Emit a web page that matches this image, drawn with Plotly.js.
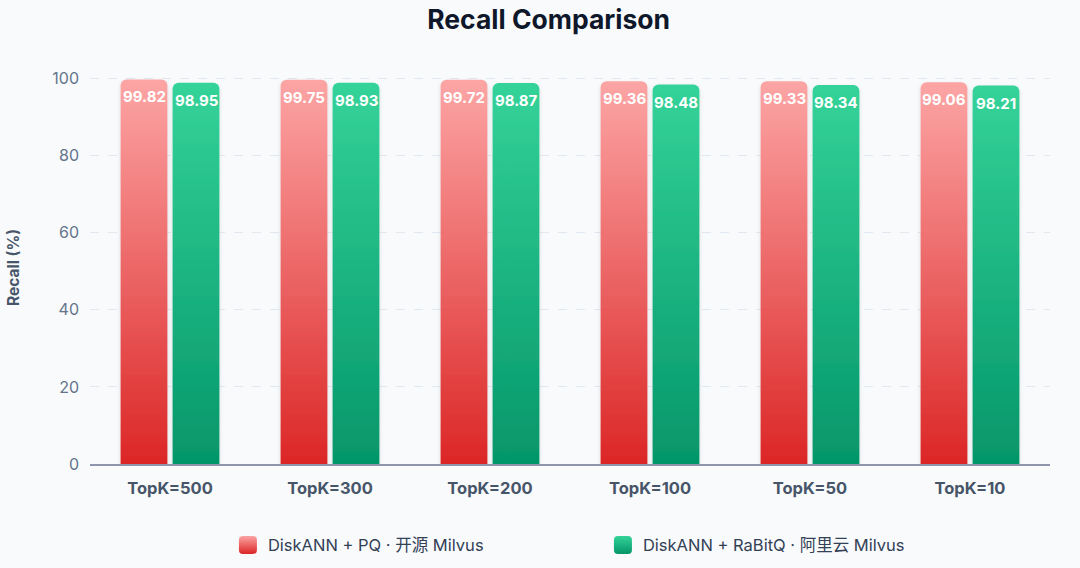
<!DOCTYPE html>
<html>
<head>
<meta charset="utf-8">
<script src="https://cdn.plot.ly/plotly-3.0.1.min.js"></script>
<style>
  html, body { margin: 0; padding: 0; background: #f8fafc; }
  #chart { width: 1080px; height: 568px; }
</style>
</head>
<body>
<div id="chart"></div>
<script>
// Recall at different TopK settings for the two index variants
const categories = ['TopK=500', 'TopK=300', 'TopK=200', 'TopK=100', 'TopK=50', 'TopK=10'];
const pqRecall = [99.82, 99.75, 99.72, 99.36, 99.33, 99.06];
const rabitqRecall = [98.95, 98.93, 98.87, 98.48, 98.34, 98.21];
const seriesNames = ['DiskANN + PQ · 开源 Milvus', 'DiskANN + RaBitQ · 阿里云 Milvus'];

const FONT = 'Inter, "Noto Sans CJK SC", "Noto Sans", sans-serif';
const BARGAP = 0.35;
const GROUPGAP = 0.1;

function barTrace(name, values, color) {
  return {
    type: 'bar',
    name: name,
    x: categories,
    y: values,
    marker: { color: color, cornerradius: 6, line: { width: 0 } }
  };
}

const data = [
  barTrace(seriesNames[0], pqRecall, '#ef4444'),
  barTrace(seriesNames[1], rabitqRecall, '#10b981')
];

// Value labels just inside the top of each bar
const slot = (1 - BARGAP) / 2;
const annotations = [];
[pqRecall, rabitqRecall].forEach((vals, s) => {
  const offset = (s === 0 ? -1 : 1) * slot / 2;
  vals.forEach((v, i) => {
    annotations.push({
      x: i + offset, y: v, xref: 'x', yref: 'y',
      text: '<b>' + v.toFixed(2) + '</b>',
      showarrow: false,
      yanchor: 'top', xanchor: 'center',
      yshift: -6,
      font: { size: 15, color: '#ffffff', family: FONT }
    });
  });
});

const layout = {
  width: 1080,
  height: 568,
  paper_bgcolor: '#f8fafc',
  plot_bgcolor: '#f8fafc',
  font: { family: FONT, color: '#475569' },
  margin: { l: 90, r: 30, t: 71, b: 104, autoexpand: false },
  title: {
    text: '<b>Recall Comparison</b>',
    font: { size: 26.5, color: '#0f172a', family: FONT },
    x: 0.508, xanchor: 'center',
    y: 0.965, yanchor: 'middle'
  },
  barmode: 'group',
  bargap: BARGAP,
  bargroupgap: GROUPGAP,
  showlegend: true,
  legend: {
    orientation: 'h',
    x: 0.5343, xanchor: 'center',
    y: -0.162, yanchor: 'top',
    entrywidth: 330, entrywidthmode: 'pixels',
    font: { size: 16.5, color: '#334155', family: FONT },
    itemsizing: 'constant',
    bgcolor: 'rgba(0,0,0,0)'
  },
  annotations: annotations,
  xaxis: {
    type: 'category',
    showline: true,
    linecolor: '#8f95ab',
    linewidth: 1.5,
    showgrid: false,
    ticks: '',
    ticklabelstandoff: 9,
    automargin: false,
    tickfont: { size: 16.5, color: '#475569', family: FONT, weight: 700 }
  },
  yaxis: {
    range: [0, 102],
    tickvals: [0, 20, 40, 60, 80, 100],
    showgrid: true,
    gridcolor: '#e2e8f0',
    griddash: 'dash',
    gridwidth: 1,
    zeroline: false,
    showline: false,
    ticks: '',
    ticklabelstandoff: 10,
    automargin: false,
    tickfont: { size: 16, color: '#64748b', family: FONT },
    title: {
      text: '<b>Recall (%)</b>',
      font: { size: 15.5, color: '#475569', family: FONT },
      standoff: 28
    }
  }
};

const gd = document.getElementById('chart');
Plotly.newPlot(gd, data, layout, { staticPlot: true, displayModeBar: false }).then(() => {
  const svgNS = 'http://www.w3.org/2000/svg';
  const svg = gd.querySelector('svg.main-svg');
  let defs = svg.querySelector('defs');
  if (!defs) { defs = document.createElementNS(svgNS, 'defs'); svg.insertBefore(defs, svg.firstChild); }

  // Vertical gradients for the two series
  const grads = [
    { id: 'gradPQ', top: '#fca5a5', bottom: '#dc2626' },
    { id: 'gradRB', top: '#34d399', bottom: '#059669' }
  ];
  grads.forEach(g => {
    const lg = document.createElementNS(svgNS, 'linearGradient');
    lg.setAttribute('id', g.id);
    lg.setAttribute('x1', '0'); lg.setAttribute('y1', '0');
    lg.setAttribute('x2', '0'); lg.setAttribute('y2', '1');
    [[0, g.top], [1, g.bottom]].forEach(([o, c]) => {
      const s = document.createElementNS(svgNS, 'stop');
      s.setAttribute('offset', o);
      s.setAttribute('stop-color', c);
      lg.appendChild(s);
    });
    defs.appendChild(lg);
  });

  // Soft drop shadow under bars
  const f = document.createElementNS(svgNS, 'filter');
  f.setAttribute('id', 'barShadow');
  f.setAttribute('x', '-20%'); f.setAttribute('y', '-10%');
  f.setAttribute('width', '140%'); f.setAttribute('height', '130%');
  const ds = document.createElementNS(svgNS, 'feDropShadow');
  ds.setAttribute('dx', '0'); ds.setAttribute('dy', '2');
  ds.setAttribute('stdDeviation', '2');
  ds.setAttribute('flood-color', '#0f172a');
  ds.setAttribute('flood-opacity', '0.12');
  f.appendChild(ds);
  defs.appendChild(f);

  const traces = gd.querySelectorAll('.barlayer .trace');
  traces.forEach((t, i) => {
    t.querySelectorAll('.point path').forEach(p => {
      p.style.fill = 'url(#' + grads[i].id + ')';
      p.setAttribute('filter', 'url(#barShadow)');
    });
  });

  // Larger rounded swatches in the legend
  const legendTraces = gd.querySelectorAll('.legend .traces');
  legendTraces.forEach((t, i) => {
    t.querySelectorAll('.legendpoints path').forEach(p => {
      p.setAttribute('d', 'M-5,-9H5A4,4 0 0 1 9,-5V5A4,4 0 0 1 5,9H-5A4,4 0 0 1 -9,5V-5A4,4 0 0 1 -5,-9Z');
      p.style.fill = 'url(#' + grads[i].id + ')';
      p.style.stroke = 'none';
    });
  });
});
</script>
</body>
</html>
